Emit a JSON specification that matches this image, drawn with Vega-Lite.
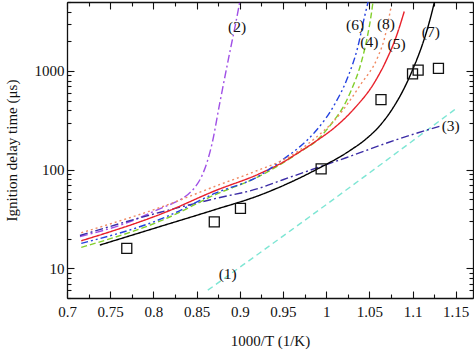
{
  "$schema": "https://vega.github.io/schema/vega-lite/v6.json",
  "width": 406,
  "height": 296,
  "autosize": {"type": "none"},
  "padding": {"left": 67, "top": 2, "right": 1, "bottom": 53},
  "config": {
    "view": {"stroke": null},
    "axis": {
      "grid": false,
      "domainColor": "#111",
      "domainWidth": 1.3,
      "tickColor": "#111",
      "tickWidth": 1.1,
      "labelFont": "Liberation Serif",
      "labelFontSize": 15,
      "labelColor": "#111",
      "titleFont": "Liberation Serif",
      "titleFontSize": 15,
      "titleFontWeight": "normal",
      "titleColor": "#111"
    }
  },
  "datasets": {
    "curves": [
      {"s": "1", "x": 0.863, "y": 6.0}, {"s": "1", "x": 0.96, "y": 24.5}, {"s": "1", "x": 1.15, "y": 413},
      {"s": "2", "x": 0.715, "y": 21}, {"s": "2", "x": 0.765, "y": 28}, {"s": "2", "x": 0.81, "y": 41}, {"s": "2", "x": 0.83, "y": 49}, {"s": "2", "x": 0.84, "y": 56}, {"s": "2", "x": 0.848, "y": 66}, {"s": "2", "x": 0.856, "y": 86}, {"s": "2", "x": 0.862, "y": 118}, {"s": "2", "x": 0.868, "y": 185}, {"s": "2", "x": 0.877, "y": 480}, {"s": "2", "x": 0.888, "y": 1480}, {"s": "2", "x": 0.895, "y": 2950}, {"s": "2", "x": 0.9, "y": 5000},
      {"s": "3", "x": 0.715, "y": 21.5}, {"s": "3", "x": 0.808, "y": 37}, {"s": "3", "x": 0.87, "y": 50.5}, {"s": "3", "x": 0.923, "y": 65}, {"s": "3", "x": 0.95, "y": 79}, {"s": "3", "x": 1.023, "y": 132}, {"s": "3", "x": 1.085, "y": 206}, {"s": "3", "x": 1.133, "y": 278},
      {"s": "4", "x": 0.7165, "y": 16.3}, {"s": "4", "x": 0.815, "y": 32}, {"s": "4", "x": 0.87, "y": 55}, {"s": "4", "x": 0.923, "y": 86}, {"s": "4", "x": 0.95, "y": 117}, {"s": "4", "x": 0.969, "y": 150}, {"s": "4", "x": 0.9885, "y": 195}, {"s": "4", "x": 1.0096, "y": 320}, {"s": "4", "x": 1.019, "y": 420}, {"s": "4", "x": 1.0288, "y": 630}, {"s": "4", "x": 1.0404, "y": 1200}, {"s": "4", "x": 1.048, "y": 2290}, {"s": "4", "x": 1.052, "y": 3630}, {"s": "4", "x": 1.0545, "y": 5250},
      {"s": "5", "x": 0.7165, "y": 19}, {"s": "5", "x": 0.815, "y": 37.3}, {"s": "5", "x": 0.87, "y": 60.4}, {"s": "5", "x": 0.923, "y": 91}, {"s": "5", "x": 0.95, "y": 119}, {"s": "5", "x": 0.969, "y": 151}, {"s": "5", "x": 0.9885, "y": 195}, {"s": "5", "x": 1.0115, "y": 275}, {"s": "5", "x": 1.0327, "y": 417}, {"s": "5", "x": 1.0557, "y": 759}, {"s": "5", "x": 1.0692, "y": 1259}, {"s": "5", "x": 1.0808, "y": 2188}, {"s": "5", "x": 1.0904, "y": 4000},
      {"s": "6", "x": 0.7165, "y": 17.9}, {"s": "6", "x": 0.815, "y": 33.3}, {"s": "6", "x": 0.87, "y": 57}, {"s": "6", "x": 0.923, "y": 87}, {"s": "6", "x": 0.95, "y": 127}, {"s": "6", "x": 0.969, "y": 169}, {"s": "6", "x": 0.9885, "y": 249}, {"s": "6", "x": 1.0096, "y": 455}, {"s": "6", "x": 1.025, "y": 862}, {"s": "6", "x": 1.0365, "y": 1730}, {"s": "6", "x": 1.0442, "y": 3480}, {"s": "6", "x": 1.049, "y": 5200},
      {"s": "7", "x": 0.738, "y": 17.2}, {"s": "7", "x": 0.8077, "y": 26.5}, {"s": "7", "x": 0.87, "y": 39}, {"s": "7", "x": 0.923, "y": 55}, {"s": "7", "x": 0.9885, "y": 100}, {"s": "7", "x": 1.027, "y": 155}, {"s": "7", "x": 1.046, "y": 204}, {"s": "7", "x": 1.0615, "y": 275}, {"s": "7", "x": 1.077, "y": 417}, {"s": "7", "x": 1.0923, "y": 724}, {"s": "7", "x": 1.1, "y": 1023}, {"s": "7", "x": 1.1115, "y": 1862}, {"s": "7", "x": 1.117, "y": 2630}, {"s": "7", "x": 1.122, "y": 3800}, {"s": "7", "x": 1.127, "y": 5750},
      {"s": "8", "x": 0.7165, "y": 22.9}, {"s": "8", "x": 0.815, "y": 43.6}, {"s": "8", "x": 0.87, "y": 67}, {"s": "8", "x": 0.923, "y": 100}, {"s": "8", "x": 0.95, "y": 125}, {"s": "8", "x": 0.969, "y": 157}, {"s": "8", "x": 0.9885, "y": 213}, {"s": "8", "x": 1.0096, "y": 315}, {"s": "8", "x": 1.0404, "y": 739}, {"s": "8", "x": 1.0596, "y": 1372}, {"s": "8", "x": 1.0673, "y": 2104}, {"s": "8", "x": 1.075, "y": 4400}
    ],
    "squares": [
      {"x": 0.7692, "y": 15.9}, {"x": 0.8705, "y": 29.5}, {"x": 0.9008, "y": 40.4}, {"x": 0.9942, "y": 102},
      {"x": 1.0635, "y": 513}, {"x": 1.1, "y": 934}, {"x": 1.1065, "y": 1020}, {"x": 1.13, "y": 1063}
    ],
    "labels": [
      {"t": "(1)", "x": 0.886, "y": 8.7}, {"t": "(2)", "x": 0.8968, "y": 2800}, {"t": "(3)", "x": 1.1442, "y": 280},
      {"t": "(4)", "x": 1.05, "y": 1945}, {"t": "(5)", "x": 1.0815, "y": 1880}, {"t": "(6)", "x": 1.0334, "y": 2940},
      {"t": "(7)", "x": 1.1211, "y": 2510}, {"t": "(8)", "x": 1.0692, "y": 2985}
    ]
  },
  "resolve": {"axis": {"x": "independent", "y": "independent"}},
  "layer": [
    {
      "data": {"name": "curves"},
      "mark": {"type": "line", "interpolate": "monotone", "strokeWidth": 1.4, "clip": true},
      "encoding": {
        "x": {
          "field": "x", "type": "quantitative",
          "scale": {"domain": [0.7, 1.17], "nice": false, "zero": false},
          "axis": {
            "orient": "bottom",
            "values": [0.7, 0.725, 0.75, 0.775, 0.8, 0.825, 0.85, 0.875, 0.9, 0.925, 0.95, 0.975, 1, 1.025, 1.05, 1.075, 1.1, 1.125, 1.15],
            "format": ".2~f",
            "labelExpr": "round(datum.value*1000) % 50 === 0 ? datum.label : ''",
            "tickSize": {"condition": {"test": "round(datum.value*1000) % 50 === 0", "value": -7}, "value": -4},
            "labelPadding": 13,
            "labelFlush": false,
            "labelOverlap": false,
            "title": "1000/T (1/K)",
            "titlePadding": 11
          }
        },
        "y": {
          "field": "y", "type": "quantitative",
          "scale": {"type": "log", "domain": [5, 5000], "nice": false},
          "axis": {
            "orient": "left",
            "values": [5, 6, 7, 8, 9, 10, 20, 30, 40, 50, 60, 70, 80, 90, 100, 200, 300, 400, 500, 600, 700, 800, 900, 1000, 2000, 3000, 4000, 5000],
            "format": "d",
            "labelExpr": "datum.value == 10 || datum.value == 100 || datum.value == 1000 ? datum.label : ''",
            "tickSize": {"condition": {"test": "datum.value == 10 || datum.value == 100 || datum.value == 1000", "value": -7}, "value": -4},
            "labelPadding": 10,
            "labelOverlap": false,
            "title": "Ignition delay time (μs)",
            "titlePadding": 15
          }
        },
        "color": {
          "field": "s", "type": "nominal",
          "scale": {"domain": ["1", "2", "3", "4", "5", "6", "7", "8"], "range": ["#7ee6d4", "#a050e6", "#3b2ca6", "#82cf2c", "#e8202a", "#2442e0", "#000000", "#f08a62"]},
          "legend": null
        },
        "strokeDash": {
          "field": "s", "type": "nominal",
          "scale": {"domain": ["1", "2", "3", "4", "5", "6", "7", "8"], "range": [[6, 4], [8, 3, 2, 3], [8, 3, 2, 3], [6, 3], [1, 0], [7, 3, 2, 3, 2, 3], [1, 0], [2, 3]]},
          "legend": null
        }
      }
    },
    {
      "data": {"name": "squares"},
      "mark": {"type": "point", "shape": "square", "filled": false, "size": 100, "stroke": "#111", "strokeWidth": 1.3, "opacity": 1},
      "encoding": {
        "x": {
          "field": "x", "type": "quantitative",
          "axis": {
            "orient": "top",
            "values": [0.7, 0.725, 0.75, 0.775, 0.8, 0.825, 0.85, 0.875, 0.9, 0.925, 0.95, 0.975, 1, 1.025, 1.05, 1.075, 1.1, 1.125, 1.15],
            "labels": false,
            "title": null,
            "tickSize": {"condition": {"test": "round(datum.value*1000) % 50 === 0", "value": -7}, "value": -4}
          }
        },
        "y": {
          "field": "y", "type": "quantitative",
          "axis": {
            "orient": "right",
            "values": [5, 6, 7, 8, 9, 10, 20, 30, 40, 50, 60, 70, 80, 90, 100, 200, 300, 400, 500, 600, 700, 800, 900, 1000, 2000, 3000, 4000, 5000],
            "labels": false,
            "title": null,
            "tickSize": {"condition": {"test": "datum.value == 10 || datum.value == 100 || datum.value == 1000", "value": -7}, "value": -4}
          }
        }
      }
    },
    {
      "data": {"name": "labels"},
      "mark": {"type": "text", "font": "Liberation Serif", "fontSize": 15.5, "color": "#111"},
      "encoding": {
        "x": {"field": "x", "type": "quantitative", "axis": null},
        "y": {"field": "y", "type": "quantitative", "axis": null},
        "text": {"field": "t", "type": "nominal"}
      }
    }
  ]
}
